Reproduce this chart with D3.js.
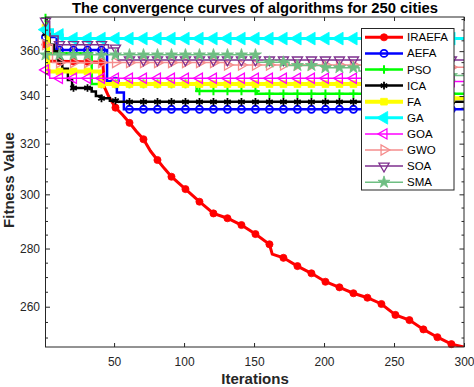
<!DOCTYPE html>
<html><head><meta charset="utf-8">
<script src="https://cdn.jsdelivr.net/npm/d3@7"></script>
<style>
body{margin:0;background:#fff}
text{font-family:Arial,"Liberation Sans",Helvetica,sans-serif}
</style>
</head><body>
<svg id="chart" width="474" height="387"></svg>
<script>
// ---------- data ----------
const seriesNames = ["IRAEFA","AEFA","PSO","ICA","FA","GA","GOA","GWO","SOA","SMA"];
const xTicks = [50,100,150,200,250,300];
const yTicks = [260,280,300,320,340,360];
const yMinorTicks = [250,255,265,270,275,285,290,295,305,310,315,325,330,335,345,350,355,365,370,375];
const markerIters = [1,11,21,31,41,51,61,71,81,91,101,111,121,131,141,151,161,171,181,191,201,211,221,231,241,251,261,271,281,291];

const iraefaIter = [1,3,42,43,46,51,56,61,66,71,76,81,86,91,101,111,121,131,141,151,161,163,171,181,191,201,211,221,231,241,251,261,271,281,291,300];
const iraefaVal  = [363,355.5,355,344,340,335,332,328.6,325,321.8,317,313.4,310,306.8,302,297.2,292.8,291,288.5,285.2,281.5,278,276.7,273.8,271.3,268.4,266.5,264.5,263,260.9,257.3,255.6,252.6,250.1,247.9,247];
const aefaIter = [1,9,45,52,57,300];
const aefaVal  = [366.5,360.5,346.5,341.5,334.3,334.3];
const psoIter = [1,2,34,109,152,300];
const psoVal  = [375.5,359,345.3,342.2,341,341];
const icaIter = [1,4,7,10,13,17,20,34,37,41,47,52,300];
const icaVal  = [368,363,360,356,352,347,343.5,342,340,339,338,337.5,337.5];
const faIter = [1,3,40,260,300];
const faVal  = [371,350.8,345.2,339,339];
const gaIter = [1,6,13,300];
const gaVal  = [370,367.5,365.8,365.8];
const goaIter = [1,4,240,300];
const goaVal  = [351.5,347.8,346.3,346.3];
const gwoIter = [1,6,130,250,300];
const gwoVal  = [363,354.8,353.7,352.7,352.7];
const soaIter = [1,4,10,46,53,300];
const soaVal  = [374,367,363,361.4,356,356];
const smaIter = [1,152,175,200,225,250,280,300];
const smaVal  = [358.3,355,353.5,352.5,351,350,349,349];

const seriesIters = [iraefaIter,aefaIter,psoIter,icaIter,faIter,gaIter,goaIter,gwoIter,soaIter,smaIter];
const seriesVals  = [iraefaVal,aefaVal,psoVal,icaVal,faVal,gaVal,goaVal,gwoVal,soaVal,smaVal];

// ---------- styles ----------
const styles = {
  IRAEFA:{color:"#FF0000", w:3,   sym:d3.symbolCircle,   size:40, fill:true,  rot:0,   curve:"linear"},
  AEFA:  {color:"#0000FF", w:2.5, sym:d3.symbolCircle,   size:40, fill:false, rot:0,   sw:1.8},
  PSO:   {color:"#00FF00", w:2.5, sym:d3.symbolPlus,     size:26, fill:false, rot:0,   sw:2, stroke:true},
  ICA:   {color:"#000000", w:2.5, sym:d3.symbolAsterisk, size:40, fill:false, rot:0,   sw:1.8, stroke:true},
  FA:    {color:"#FFFF00", w:4,   sym:d3.symbolSquare,   size:45, fill:true,  rot:0},
  GA:    {color:"#00FFFF", w:3,   sym:d3.symbolTriangle, size:70, fill:true,  rot:-90},
  GOA:   {color:"#FF00FF", w:1.5, sym:d3.symbolTriangle, size:45, fill:false, rot:-90, sw:1.3},
  GWO:   {color:"#F58C8C", w:1.5, sym:d3.symbolTriangle, size:45, fill:false, rot:90,  sw:1.3},
  SOA:   {color:"#7E2F8E", w:1.5, sym:d3.symbolTriangle, size:45, fill:false, rot:180, sw:1.3},
  SMA:   {color:"#6EBE82", w:1.5, sym:d3.symbolStar,     size:45, fill:true,  rot:0}
};

const L=45.5, R=464, T=17, B=347;
const svg = d3.select("#chart");
const x = d3.scaleLinear().domain([1,300]).range([L,R]);
const y = d3.scaleLog().domain([247,376]).range([B,T]);

svg.append("defs").append("clipPath").attr("id","clip")
  .append("rect").attr("x",L).attr("y",T).attr("width",R-L).attr("height",B-T);

function valueAt(iters, vals, t, linear){
  let i = d3.bisectRight(iters, t) - 1;
  if (i < 0) i = 0;
  if (!linear || i >= iters.length-1) return vals[i];
  const f = (t - iters[i])/(iters[i+1]-iters[i]);
  return vals[i] + f*(vals[i+1]-vals[i]);
}

function markerPath(st){
  return d3.symbol().type(st.sym).size(st.size)();
}

function drawMarker(g, st, cx, cy){
  const p = g.append("path").attr("d", markerPath(st))
    .attr("transform", `translate(${cx},${cy}) rotate(${st.rot})`);
  if (st.fill) p.attr("fill", st.color).attr("stroke", st.color).attr("stroke-width",0.8);
  else p.attr("fill","none").attr("stroke", st.color).attr("stroke-width", st.sw||1.3);
}

const plot = svg.append("g");
seriesNames.forEach((name, k) => {
  const st = styles[name];
  const iters = seriesIters[k], vals = seriesVals[k];
  const pts = iters.map((it,i)=>[it, vals[i]]);
  const line = d3.line().x(d=>x(d[0])).y(d=>y(d[1]))
     .curve(st.curve==="linear" ? d3.curveLinear : d3.curveStepAfter);
  const g = plot.append("g");
  g.append("path").attr("d", line(pts)).attr("fill","none")
    .attr("stroke", st.color).attr("stroke-width", st.w)
    .attr("stroke-linejoin","miter").attr("clip-path","url(#clip)");
  markerIters.forEach(t => {
    drawMarker(g, st, x(t), y(valueAt(iters, vals, t, st.curve==="linear")));
  });
});

// ---------- axes ----------
const axisColor = "#262626";
function styleAxis(g){
  g.select(".domain").remove();
  g.selectAll("line").attr("stroke", axisColor).attr("stroke-width",1);
  g.selectAll("text").attr("fill", axisColor).style("font-size","12px")
    .style("font-family","Arial, 'Liberation Sans', sans-serif");
}
svg.append("g").attr("transform",`translate(0,${B})`)
  .call(d3.axisBottom(x).tickValues(xTicks).tickSizeInner(-4).tickSizeOuter(0).tickPadding(10.5))
  .call(styleAxis);
svg.append("g").attr("transform",`translate(0,${T})`)
  .call(d3.axisTop(x).tickValues(xTicks).tickSizeInner(-4).tickSizeOuter(0).tickFormat(""))
  .call(styleAxis);
svg.append("g").attr("transform",`translate(${L},0)`)
  .call(d3.axisLeft(y).tickValues(yTicks).tickSizeInner(-4.5).tickSizeOuter(0).tickPadding(5.5).tickFormat(d3.format("d")))
  .call(styleAxis);
svg.append("g").attr("transform",`translate(${L},0)`)
  .call(d3.axisLeft(y).tickValues(yMinorTicks).tickSizeInner(-2.5).tickSizeOuter(0).tickFormat(""))
  .call(styleAxis);
svg.append("g").attr("transform",`translate(${R},0)`)
  .call(d3.axisRight(y).tickValues(yTicks).tickSizeInner(-4.5).tickSizeOuter(0).tickFormat(""))
  .call(styleAxis);
svg.append("g").attr("transform",`translate(${R},0)`)
  .call(d3.axisRight(y).tickValues(yMinorTicks).tickSizeInner(-2.5).tickSizeOuter(0).tickFormat(""))
  .call(styleAxis);
svg.append("rect").attr("x",L).attr("y",T).attr("width",R-L).attr("height",B-T)
  .attr("fill","none").attr("stroke",axisColor).attr("stroke-width",1);

// ---------- titles ----------
svg.append("text").attr("x",255).attr("y",13).attr("text-anchor","middle")
  .style("font-size","14.8px").style("font-weight","bold").attr("fill","#000")
  .text("The convergence curves of algorithms for 250 cities");
svg.append("text").attr("x",255).attr("y",384).attr("text-anchor","middle")
  .style("font-size","15px").style("font-weight","bold").attr("fill",axisColor)
  .text("Iterations");
svg.append("text").attr("transform","translate(14,180) rotate(-90)").attr("text-anchor","middle")
  .style("font-size","15px").style("font-weight","bold").attr("fill",axisColor)
  .text("Fitness Value");

// ---------- legend ----------
const lg = svg.append("g");
lg.append("rect").attr("x",361.5).attr("y",28.5).attr("width",92.5).attr("height",161.5)
  .attr("fill","#fff").attr("stroke",axisColor).attr("stroke-width",1);
seriesNames.forEach((name,i)=>{
  const st = styles[name];
  const cy = 37.3 + i*16.1;
  lg.append("line").attr("x1",365).attr("x2",403).attr("y1",cy).attr("y2",cy)
    .attr("stroke",st.color).attr("stroke-width",st.w);
  drawMarker(lg, st, 384, cy);
  lg.append("text").attr("x",407).attr("y",cy).attr("dy","0.35em")
    .style("font-size","11.5px").attr("fill","#000").text(name);
});
</script>
</body></html>
